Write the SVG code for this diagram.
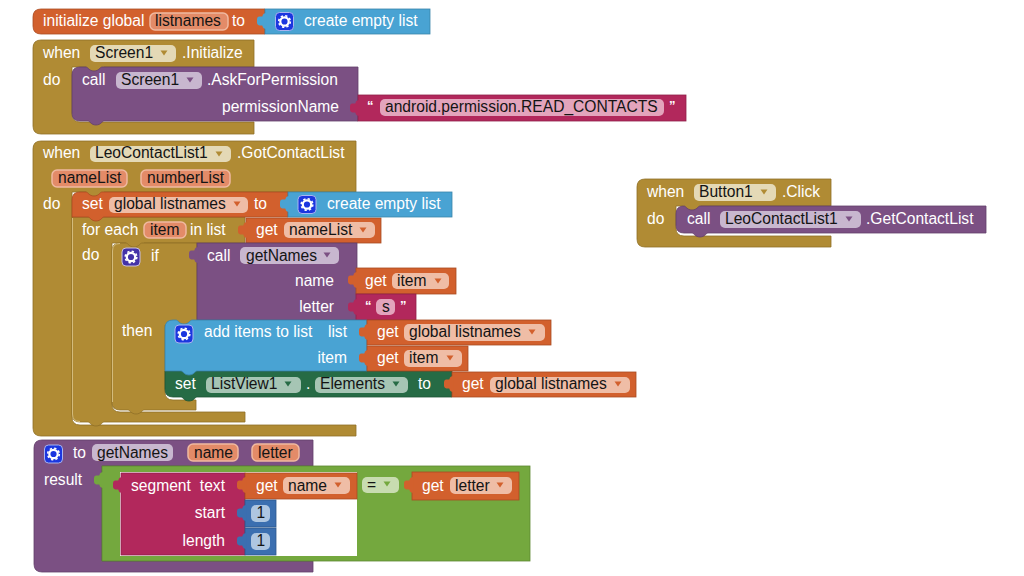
<svg xmlns="http://www.w3.org/2000/svg" width="1024" height="576" viewBox="0 0 1024 576">
<style>
text{font-family:"Liberation Sans",Arial,sans-serif;font-size:15.6px;fill:#fff}
text.f{fill:#141414}
text.e{text-anchor:end}
text.q{font-size:13px;font-weight:bold}
.or{fill:#d2602d;stroke:#a94b22;stroke-width:.8}
.bl{fill:#49a3d3;stroke:#3a84ab;stroke-width:.8}
.go{fill:#b08b34;stroke:#8f7027;stroke-width:.8}
.pu{fill:#7b5083;stroke:#623f69;stroke-width:.8}
.cr{fill:#b2285c;stroke:#8f2049;stroke-width:.8}
.dg{fill:#266b45;stroke:#1d5435;stroke-width:.8}
.lg{fill:#74a83e;stroke:#5c8731;stroke-width:.8}
.nb{fill:#3b6fb0;stroke:#2f598d;stroke-width:.8}
.tor{fill:#d2602d}.tbl{fill:#49a3d3}.tpu{fill:#7b5083}.tcr{fill:#b2285c}.tlg{fill:#74a83e}.tnb{fill:#3b6fb0}
.por{fill:#efbda6}.pvar{fill:#e38b68;stroke:#f0b9a0;stroke-width:1.500}
.pgo{fill:#e4d9b6}.ppu{fill:#c8b7cf}.pdg{fill:#a6c5b4}.pcr{fill:#e3a4bc}.plg{fill:#c8dcb0}.pnb{fill:#aec6e1}
.aor{fill:#d2602d}.ago{fill:#b08b34}.apu{fill:#7b5083}.adg{fill:#266b45}.alg{fill:#74a83e}
.white{fill:#fff}
.hl{fill:none;stroke:#d3bb7c;stroke-width:1}
</style>
<defs>
<path id="tab" d="M1,0 C-1,0 -3,1 -3,3 C-3,4.500 -8,2 -8.500,6 V10 C-8,14 -3,11.500 -3,13 C-3,15 -1,16 1,16 Z"/>
<path id="arr" d="M-3.500,-2.500 H3.500 L0,2.500 Z"/>
<g id="gear">
<rect x="0" y="0" width="18" height="18" rx="4" fill="#1b36df" stroke="#a9b4f0" stroke-width="1"/>
<circle cx="9" cy="9" r="4.200" fill="none" stroke="#fff" stroke-width="2.200"/>
<circle cx="9" cy="9" r="5.800" fill="none" stroke="#fff" stroke-width="1.600" stroke-dasharray="2.300 2.250"/>
</g>
<g id="gearp">
<rect x="0" y="0" width="18" height="18" rx="4" fill="#4432a8" stroke="#c9bfe0" stroke-width="1"/>
<circle cx="9" cy="9" r="4.200" fill="none" stroke="#fff" stroke-width="2.200"/>
<circle cx="9" cy="9" r="5.800" fill="none" stroke="#fff" stroke-width="1.600" stroke-dasharray="2.300 2.250"/>
</g>
</defs>

<g id="connectors"></g>

<g id="init-global">
<path class="or" d="M41,9 H265 V34 H41 Q33,34 33,26 V17 Q33,9 41,9 Z"/>
<text x="43" y="26">initialize global</text>
<rect class="pvar" x="150" y="13" width="78" height="17" rx="5"/>
<text class="f" x="155" y="26">listnames</text>
<text x="232" y="26">to</text>
<rect class="bl" x="265" y="9" width="165" height="25"/>
<use href="#tab" x="265.500" y="13" class="tbl"/>
<use href="#gear" x="275.500" y="12.500"/>
<text x="304" y="26">create empty list</text>
</g>

<g id="when-screen1">
<path class="go" d="M41,40 H254 V67 H104 V72 H86 V67 H72 V114 Q72,122 80,122 H254 V134 H41 Q33,134 33,126 V48 Q33,40 41,40 Z"/>
<text x="43" y="58">when</text>
<rect class="pgo" x="90" y="45" width="86" height="17" rx="5"/>
<text class="f" x="95" y="58">Screen1</text>
<use href="#arr" x="164" y="53" class="ago"/>
<text x="182" y="58">.Initialize</text>
<text x="43" y="85">do</text>
<g id="call-askforpermission">
<path class="pu" d="M80,67 H86 C88,67 89,71 94,71 C99,71 100,67 102,67 H358 V121 H104 C102,121 101,125 96,125 C91,125 90,121 88,121 H80 Q72,121 72,113 V75 Q72,67 80,67 Z"/>
<text x="82" y="85">call</text>
<rect class="ppu" x="116" y="72" width="86" height="17" rx="5"/>
<text class="f" x="121" y="85">Screen1</text>
<use href="#arr" x="190" y="80" class="apu"/>
<text x="207" y="85">.AskForPermission</text>
<text class="e" x="339" y="112">permissionName</text>
</g>
<g id="string-permission">
<rect class="cr" x="358" y="95" width="328" height="26"/>
<use href="#tab" x="358.500" y="100" class="tcr"/>
<text class="q" x="367" y="110">“</text>
<rect class="pcr" x="380" y="99" width="284" height="17" rx="5"/>
<text class="f" x="385" y="112">android.permission.READ_CONTACTS</text>
<text class="q" x="669" y="110">”</text>
</g>
</g>

<g id="when-gotcontactlist">
<path class="go" d="M41,141 H356 V192 H104 V197 H86 V192 H72 V417 Q72,425 80,425 H356 V436 H41 Q33,436 33,428 V149 Q33,141 41,141 Z"/>
<text x="43" y="158">when</text>
<rect class="pgo" x="90" y="146" width="141" height="16" rx="5"/>
<text class="f" x="95" y="158">LeoContactList1</text>
<use href="#arr" x="219" y="154" class="ago"/>
<text x="237" y="158">.GotContactList</text>
<rect class="pvar" x="52" y="170" width="75" height="17" rx="5"/>
<text class="f" x="58" y="183">nameList</text>
<rect class="pvar" x="141" y="170" width="89" height="17" rx="5"/>
<text class="f" x="147" y="183">numberList</text>
<text x="43" y="209">do</text>
</g>

<g id="for-each">
<path class="go" d="M72,217 H245 V243 H144 V248 H126 V243 H112 V404 Q112,412 120,412 H245 V422 H104 C102,422 101,426 96,426 C91,426 90,422 88,422 H80 Q72,422 72,414 Z"/>
<path class="hl" d="M72.500,218 V414 Q72.500,421.500 80,421.500"/>
<text x="82" y="235">for each</text>
<rect class="pvar" x="144" y="222" width="42" height="16" rx="5"/>
<text class="f" x="150" y="235">item</text>
<text x="190" y="235">in list</text>
<text x="82" y="260">do</text>
<rect class="or" x="246" y="218" width="135" height="25"/>
<use href="#tab" x="246.500" y="222" class="tor"/>
<text x="256" y="235">get</text>
<rect class="por" x="284" y="222" width="91" height="16" rx="5"/>
<text class="f" x="289" y="235">nameList</text>
<use href="#arr" x="363" y="230" class="aor"/>
</g>

<g id="if-block">
<path class="go" d="M120,243 H126 C128,243 129,247 134,247 C139,247 140,243 142,243 H197 V325 H165 V392 Q165,400 173,400 H196 V410 H144 C142,410 141,414 136,414 C131,414 130,410 128,410 H120 Q112,410 112,402 V251 Q112,243 120,243 Z"/>
<path class="hl" d="M112.500,402 V251 Q112.500,243.500 120,243.500"/>
<use href="#gearp" x="122" y="248"/>
<text x="151" y="261">if</text>
<text x="122" y="336">then</text>
</g>

<g id="set-global">
<path class="or" d="M80,192 H86 C88,192 89,196 94,196 C99,196 100,192 102,192 H288 V217 H104 C102,217 101,221 96,221 C91,221 90,217 88,217 H72 V200 Q72,192 80,192 Z"/>
<text x="82" y="209">set</text>
<rect class="por" x="109" y="197" width="139" height="16" rx="5"/>
<text class="f" x="114" y="209">global listnames</text>
<use href="#arr" x="237" y="204" class="aor"/>
<text x="254" y="209">to</text>
<rect class="bl" x="288" y="192" width="164" height="25"/>
<use href="#tab" x="288.500" y="196" class="tbl"/>
<use href="#gear" x="298" y="195.500"/>
<text x="327" y="209">create empty list</text>
</g>

<g id="call-getnames">
<rect class="pu" x="197" y="243" width="160" height="77"/>
<use href="#tab" x="197.500" y="247" class="tpu"/>
<text x="207" y="261">call</text>
<rect class="ppu" x="240" y="247" width="99" height="17" rx="5"/>
<text class="f" x="246" y="261">getNames</text>
<use href="#arr" x="327" y="255" class="apu"/>
<text class="e" x="334" y="286">name</text>
<text class="e" x="334" y="312">letter</text>
<rect class="or" x="356" y="268" width="100" height="26"/>
<use href="#tab" x="356.500" y="272" class="tor"/>
<text x="365" y="286">get</text>
<rect class="por" x="392" y="273" width="57" height="16" rx="5"/>
<text class="f" x="397" y="286">item</text>
<use href="#arr" x="438" y="281" class="aor"/>
<rect class="cr" x="356" y="294" width="60" height="26"/>
<use href="#tab" x="356.500" y="299" class="tcr"/>
<text class="q" x="365" y="310">“</text>
<rect class="pcr" x="376" y="299" width="19" height="16" rx="5"/>
<text class="f" x="382" y="312">s</text>
<text class="q" x="400" y="310">”</text>
</g>

<g id="set-listview">
<path class="dg" d="M165,371 H452 V397 H197 C195,397 194,401 189,401 C184,401 183,397 181,397 H173 Q165,397 165,389 Z"/>
<text x="175" y="389">set</text>
<rect class="pdg" x="206" y="377" width="95" height="16" rx="5"/>
<text class="f" x="211" y="389">ListView1</text>
<use href="#arr" x="288" y="384" class="adg"/>
<text x="306" y="389">.</text>
<rect class="pdg" x="315" y="377" width="93" height="16" rx="5"/>
<text class="f" x="320" y="389">Elements</text>
<use href="#arr" x="396" y="384" class="adg"/>
<text x="418" y="389">to</text>
<rect class="or" x="452" y="372" width="184" height="25"/>
<use href="#tab" x="452.500" y="376" class="tor"/>
<text x="462" y="389">get</text>
<rect class="por" x="490" y="377" width="140" height="16" rx="5"/>
<text class="f" x="495" y="389">global listnames</text>
<use href="#arr" x="618" y="384" class="aor"/>
</g>

<g id="add-items">
<path class="bl" d="M173,320 H176 C178,320 179,324 184,324 C189,324 190,320 192,320 H367 V371 H197 C195,371 194,375 189,375 C184,375 183,371 181,371 H165 V328 Q165,320 173,320 Z"/>
<use href="#gear" x="175" y="325"/>
<text x="204" y="337">add items to list</text>
<text class="e" x="347" y="337">list</text>
<text class="e" x="347" y="363">item</text>
<rect class="or" x="367" y="320" width="184" height="25"/>
<use href="#tab" x="367.500" y="324" class="tor"/>
<text x="377" y="337">get</text>
<rect class="por" x="404" y="324" width="141" height="17" rx="5"/>
<text class="f" x="409" y="337">global listnames</text>
<use href="#arr" x="532" y="332" class="aor"/>
<rect class="or" x="367" y="346" width="101" height="25"/>
<use href="#tab" x="367.500" y="350" class="tor"/>
<text x="377" y="363">get</text>
<rect class="por" x="404" y="350" width="58" height="17" rx="5"/>
<text class="f" x="409" y="363">item</text>
<use href="#arr" x="450" y="358" class="aor"/>
</g>

<g id="to-getnames">
<path class="pu" d="M42,440 H313 V466 H102 V561 H313 V572 H42 Q34,572 34,564 V448 Q34,440 42,440 Z"/>
<use href="#gear" x="44.500" y="445"/>
<text x="73" y="458">to</text>
<rect class="ppu" x="92" y="444" width="81" height="17" rx="5"/>
<text class="f" x="97" y="458">getNames</text>
<rect class="pvar" x="188" y="444" width="50" height="17" rx="5"/>
<text class="f" x="194" y="458">name</text>
<rect class="pvar" x="252" y="444" width="47" height="17" rx="5"/>
<text class="f" x="258" y="458">letter</text>
<text x="44" y="485">result</text>
</g>

<g id="compare">
<rect class="lg" x="102" y="466" width="428" height="95"/>
<use href="#tab" x="102.500" y="472" class="tlg"/>
<rect class="white" x="120" y="472" width="237" height="84"/>
<rect class="cr" x="121" y="473" width="124" height="82"/>
<use href="#tab" x="121.500" y="477" class="tcr"/>
<text x="131" y="491">segment</text>
<text class="e" x="225" y="491">text</text>
<text class="e" x="225" y="518">start</text>
<text class="e" x="225" y="546">length</text>
<rect class="or" x="245" y="473" width="112" height="26"/>
<use href="#tab" x="245.500" y="477" class="tor"/>
<text x="256" y="491">get</text>
<rect class="por" x="283" y="477" width="67" height="17" rx="5"/>
<text class="f" x="288" y="491">name</text>
<use href="#arr" x="338" y="485" class="aor"/>
<rect class="nb" x="245" y="500" width="31" height="27"/>
<use href="#tab" x="245.500" y="505" class="tnb"/>
<rect class="pnb" x="251" y="505" width="19" height="17" rx="5"/>
<text class="f" x="256.500" y="518">1</text>
<rect class="nb" x="245" y="528" width="31" height="27"/>
<use href="#tab" x="245.500" y="533" class="tnb"/>
<rect class="pnb" x="251" y="533" width="19" height="17" rx="5"/>
<text class="f" x="256.500" y="546">1</text>
<rect class="plg" x="362" y="477" width="37" height="16" rx="5"/>
<text class="f" x="367" y="490">=</text>
<use href="#arr" x="387" y="484" class="alg"/>
<rect class="or" x="412" y="472" width="107" height="28"/>
<use href="#tab" x="412.500" y="477" class="tor"/>
<text x="422" y="491">get</text>
<rect class="por" x="450" y="477" width="62" height="17" rx="5"/>
<text class="f" x="455" y="491">letter</text>
<use href="#arr" x="500" y="485" class="aor"/>
</g>

<g id="when-button1">
<path class="go" d="M645,179 H831 V206 H701 V211 H683 V206 H676 V228 Q676,236 684,236 H831 V247 H645 Q637,247 637,239 V187 Q637,179 645,179 Z"/>
<text x="647" y="197">when</text>
<rect class="pgo" x="694" y="184" width="82" height="17" rx="5"/>
<text class="f" x="699" y="197">Button1</text>
<use href="#arr" x="764" y="192" class="ago"/>
<text x="782" y="197">.Click</text>
<text x="647" y="224">do</text>
<g id="call-getcontactlist">
<path class="pu" d="M684,206 C686,206 687,210 692,210 C697,210 698,206 700,206 H986 V233 H708 C706,233 705,237 700,237 C695,237 694,233 692,233 H684 Q676,233 676,225 V214 Q676,206 684,206 Z"/>
<text x="687" y="224">call</text>
<rect class="ppu" x="720" y="211" width="141" height="17" rx="5"/>
<text class="f" x="725" y="224">LeoContactList1</text>
<use href="#arr" x="849" y="219" class="apu"/>
<text x="866" y="224">.GetContactList</text>
</g>
</g>
</svg>
